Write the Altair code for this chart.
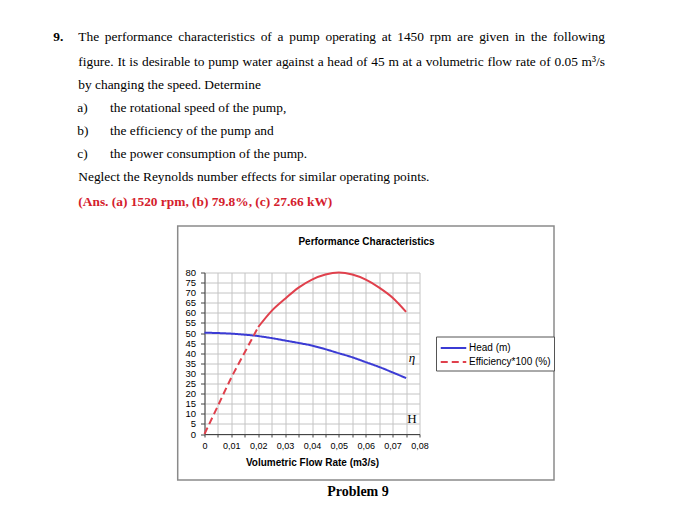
import altair as alt
import pandas as pd

# ---------------- data ----------------
flow = [0, 0.005, 0.01, 0.015, 0.02, 0.025, 0.03, 0.035, 0.04, 0.045, 0.05,
        0.055, 0.06, 0.065, 0.07, 0.075]
head = [50.2, 50.0, 49.7, 49.2, 48.5, 47.5, 46.3, 45.1, 43.8, 42.0, 40.0,
        38.0, 35.6, 33.2, 30.5, 27.7]
eff = [0, 14, 28, 40.5, 53, 61, 67, 72.5, 76.5, 79, 80, 79, 76.5, 72.5, 67.5, 60.5]
dash_end = 0.02  # efficiency drawn dashed up to this flow rate

series_names = ["Head (m)", "Efficiency*100 (%)"]
series_colors = ["#3b3bd4", "#e0404c"]

x_grid = [i * 0.005 for i in range(17)]
y_ticks = list(range(0, 85, 5))

curve_labels = ["η", "H"]
curve_label_x = [0.0772, 0.0772]
curve_label_y = [37.5, 7.5]
curve_label_style = ["italic", "normal"]

line1 = "The performance characteristics of a pump operating at 1450 rpm are given in the following"
line2 = "figure. It is desirable to pump water against a head of 45 m at a volumetric flow rate of 0.05 m³/s"
line3 = "by changing the speed. Determine"
items_lbl = ["a)", "b)", "c)"]
items_txt = ["the rotational speed of the pump,", "the efficiency of the pump and",
             "the power consumption of the pump."]
line7 = "Neglect the Reynolds number effects for similar operating points."
answer = "(Ans. (a) 1520 rpm, (b) 79.8%, (c) 27.66 kW)"
text_y = [36.7, 61.7, 84.5, 108, 131, 154, 177, 201.5]

# ---------------- tables ----------------
rows = []
for f, h in zip(flow, head):
    rows.append({"flow": f, "value": h, "series": series_names[0]})
for f, e in zip(flow, eff):
    if f <= dash_end:
        rows.append({"flow": f, "value": e, "series": series_names[1]})
lines_df = pd.DataFrame(rows)
solid_df = pd.DataFrame({"flow": [f for f in flow if f >= dash_end],
                         "value": [e for f, e in zip(flow, eff) if f >= dash_end]})
one = pd.DataFrame({"k": [0]})

# ---------------- geometry ----------------
OX, OY = 204.5, 272.5        # page position of plot origin
W, H = 215, 161.5            # plot size
SANS = "Liberation Sans"
SERIF = "Liberation Serif"
FS = 13.4                    # body text size
LEFT, RIGHT = 78.3, 605.0    # justified text block

# approximate Times advance widths (em/1000) for justification layout
_tw = dict(zip("abcdefghijklmnopqrstuvwxyz",
               [444, 500, 444, 500, 444, 333, 500, 500, 278, 278, 500, 278, 778, 500, 500,
                500, 500, 333, 389, 278, 500, 500, 722, 500, 500, 444]))
_tw.update(dict(zip("ABCDEFGHIJKLMNOPQRSTUVWXYZ",
                    [722, 667, 667, 722, 611, 556, 722, 722, 333, 389, 722, 611, 889, 722, 722,
                     556, 722, 667, 556, 611, 722, 722, 944, 722, 722, 611])))
_tw.update({c: 500 for c in "0123456789"})
_tw.update({".": 250, ",": 250, "/": 278, "³": 300, "(": 333, ")": 333, "%": 833})


def word_w(w):
    return sum(_tw.get(c, 500) for c in w) / 1000.0 * FS


def justify(line):
    words = line.split(" ")
    widths = [word_w(w) for w in words]
    gap = (RIGHT - LEFT - sum(widths)) / (len(words) - 1)
    xs_, x = [], LEFT
    for w in widths:
        xs_.append(x)
        x += w + gap
    return list(zip(words, xs_))


xs = alt.Scale(domain=[0, 0.08], nice=False, zero=False)
ys = alt.Scale(domain=[0, 80], nice=False)

x_axis = alt.Axis(
    values=x_grid, grid=True, labelAngle=0, labelOverlap=False,
    labelExpr="datum.value == 0 ? '0' : (round(datum.value*1000) % 10 == 0 ? replace(format(datum.value, '.2f'), '.', ',') : '')",
    title="Volumetric Flow Rate (m3/s)", titleFont=SANS, titleFontSize=10, titleFontWeight="bold",
    titleColor="black", titlePadding=7,
    labelFont=SANS, labelFontSize=9, labelColor="black", labelPadding=4,
    tickSize=3, tickColor="#444", domainColor="#444",
    gridColor="#c4c4c4", gridWidth=1, labelFlush=False)
y_axis = alt.Axis(
    values=y_ticks, grid=True, labelAngle=0, labelOverlap=False, title=None,
    labelFont=SANS, labelFontSize=9.5, labelColor="black",
    labelPadding=5, tickSize=4, tickColor="#444", domainColor="#444",
    gridColor="#c4c4c4", gridWidth=1, labelFlush=False)

x_enc = alt.X("flow:Q", scale=xs, axis=x_axis)
y_enc = alt.Y("value:Q", scale=ys, axis=y_axis)

leg = alt.Legend(title=None, orient="none", legendX=231.5, legendY=64,
                 labelFont=SANS, labelFontSize=10, labelColor="black",
                 symbolType="M-1.7,0L1.7,0", symbolSize=225, symbolStrokeWidth=2,
                 symbolOffset=6, strokeColor="#555", fillColor="white", padding=3,
                 rowPadding=0, labelOffset=7)

frame = alt.Chart(one).mark_rect(fill="transparent", stroke="#8a8a8a", strokeWidth=1.5).encode(
    x=alt.value(177.7 - OX), x2=alt.value(554 - OX),
    y=alt.value(226 - OY), y2=alt.value(480 - OY))

lines = alt.Chart(lines_df).mark_line(strokeWidth=2, interpolate="monotone").encode(
    x=x_enc, y=y_enc,
    color=alt.Color("series:N", scale=alt.Scale(domain=series_names, range=series_colors), legend=leg),
    strokeDash=alt.StrokeDash("series:N", scale=alt.Scale(domain=series_names, range=[[1, 0], [7, 4]]), legend=leg),
)
solid = alt.Chart(solid_df).mark_line(strokeWidth=2, interpolate="monotone",
                                     color=series_colors[1]).encode(x=x_enc, y=y_enc)

labs = []
for lab, lx, ly, st in zip(curve_labels, curve_label_x, curve_label_y, curve_label_style):
    labs.append(alt.Chart(pd.DataFrame({"flow": [lx], "value": [ly], "lab": [lab]})).mark_text(
        font=SERIF, fontSize=13, fontStyle=st, color="black", align="center", baseline="middle"
    ).encode(x=x_enc, y=y_enc, text="lab:N"))


def T(txt, x, y, size=FS, bold=False, color="black", font=SERIF, align="left"):
    return alt.Chart(one).mark_text(text=txt, align=align, baseline="middle", fontSize=size,
                                    fontWeight="bold" if bold else "normal",
                                    color=color, font=font).encode(
        x=alt.value(x - OX), y=alt.value(y - OY))


texts = [T("9.", 53.3, text_y[0], bold=True)]
for w, xw in justify(line1):
    texts.append(T(w, xw, text_y[0]))
for w, xw in justify(line2):
    texts.append(T(w, xw, text_y[1]))
texts.append(T(line3, LEFT, text_y[2]))
for i in range(3):
    texts.append(T(items_lbl[i], 77.3, text_y[3 + i]))
    texts.append(T(items_txt[i], 110, text_y[3 + i]))
texts.append(T(line7, LEFT, text_y[6]))
texts.append(T(answer, LEFT, text_y[7], bold=True, color="#d4202c"))
texts.append(T("Performance Characteristics", 366.5, 242.3, size=10, bold=True, font=SANS,
               align="center"))
texts.append(T("Problem 9", 358, 491.5, size=14, bold=True, align="center"))

chart = alt.layer(lines, solid, *labs, frame, *texts).properties(
    width=W, height=H,
    autosize=alt.AutoSizeParams(type="none"),
    padding={"left": OX - 8, "top": OY - 8, "right": 684 - (OX - 8) - W, "bottom": 490 - (OY - 8) - H},
    background="white",
).configure_view(stroke=None)

chart.save("out.html", embed_options={"renderer": "svg", "actions": False})
